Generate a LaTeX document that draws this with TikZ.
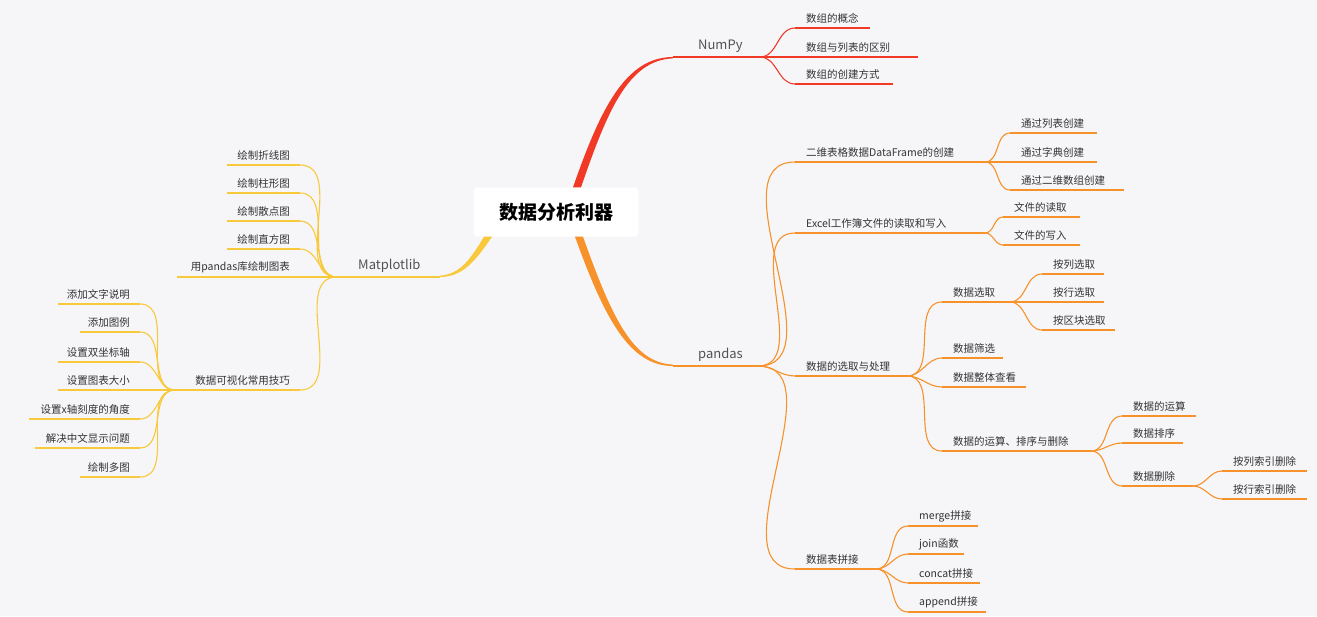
\documentclass[tikz,border=0pt]{standalone}
\usepackage{fontspec}
\setmainfont{Noto Sans CJK SC}
\definecolor{bg}{HTML}{F6F6F9}
\definecolor{cred}{HTML}{F03A26}
\definecolor{cor}{HTML}{F7922A}
\definecolor{cyel}{HTML}{F9C93C}
\definecolor{txt}{HTML}{333333}
\tikzset{
  leaftxt/.style={font=\fontsize{10.5}{12}\selectfont, text=txt, inner sep=1pt},
  maintxt/.style={font=\fontsize{13}{15}\selectfont, text=txt!85, inner sep=1pt},
  ln/.style={line width=1.1pt}
}
\newcommand\leafR[6]{%
  \coordinate (#1s) at (#3,-#5); \coordinate (#1e) at (#4,-#5);
  \draw[ln,#2] (#1s) -- (#1e);
  \node[leaftxt, anchor=south west] (#1) at ([xshift=10pt,yshift=3pt]#1s) {#6};}
\newcommand\leafL[6]{%
  \coordinate (#1s) at (#3,-#5); \coordinate (#1e) at (#4,-#5);
  \draw[ln,#2] (#1s) -- (#1e);
  \node[leaftxt, anchor=south east] (#1) at ([xshift=-9pt,yshift=3pt]#1e) {#6};}
\newcommand\cR[3]{\draw[ln,#1] (#2) to[out=0,in=180] (#3);}
\newcommand\cL[3]{\draw[ln,#1] (#2) to[out=180,in=0] (#3);}
\begin{document}
\begin{tikzpicture}[x=1pt,y=1pt]
\fill[bg] (0,0) rectangle (1317,-616);
\useasboundingbox (0,0) rectangle (1317,-616);
% central
\node[fill=white, rounded corners=4pt, minimum width=165pt, minimum height=49pt, inner sep=0pt,
  font=\fontsize{19}{22}\selectfont\bfseries, text=black] (root) at (556,-212) {数据分析利器};
% NumPy
\coordinate (nums) at (673,-57); \coordinate (nume) at (760,-57);
\fill[cred] ([xshift=17pt]root.north) .. controls (600,-110) and (625,-57) .. (nums) -- ([yshift=-1.4pt]nums) .. controls (628,-60) and (607,-112) .. ([xshift=25pt]root.north) -- cycle;
\draw[ln,cred] (nums) -- (nume);
\node[maintxt, anchor=south west] (numpy) at (697,-54) {NumPy};
\leafR{n1}{cred}{795}{870}{28}{数组的概念}
\leafR{n2}{cred}{795}{918}{57}{数组与列表的区别}
\leafR{n3}{cred}{795}{893}{84}{数组的创建方式}
\foreach \c in {n1s,n2s,n3s} {\cR{cred}{nume}{\c}}
% pandas
\coordinate (pans) at (673,-366); \coordinate (pane) at (758,-366);
\fill[cor] ([xshift=19pt]root.south) .. controls (605,-320) and (630,-366) .. (pans) -- ([yshift=1.4pt]pans) .. controls (633,-363) and (612,-318) .. ([xshift=27pt]root.south) -- cycle;
\draw[ln,cor] (pans) -- (pane);
\node[maintxt, anchor=south west] (pandas) at (697,-363) {pandas};
\leafR{p1}{cor}{795}{985}{162}{二维表格数据DataFrame的创建}
\leafR{p11}{cor}{1010}{1097}{133}{通过列表创建}
\leafR{p12}{cor}{1010}{1097}{162}{通过字典创建}
\leafR{p13}{cor}{1010}{1124}{190}{通过二维数组创建}
\leafR{p2}{cor}{795}{985}{233}{Excel工作簿文件的读取和写入}
\leafR{p21}{cor}{1003}{1080}{217}{文件的读取}
\leafR{p22}{cor}{1003}{1080}{245}{文件的写入}
\leafR{p3}{cor}{795}{907}{376}{数据的选取与处理}
\leafR{p31}{cor}{942}{1010}{302}{数据选取}
\leafR{p311}{cor}{1042}{1104}{274}{按列选取}
\leafR{p312}{cor}{1042}{1104}{302}{按行选取}
\leafR{p313}{cor}{1042}{1115}{330}{按区块选取}
\leafR{p32}{cor}{942}{1003}{358}{数据筛选}
\leafR{p33}{cor}{942}{1026}{387}{数据整体查看}
\leafR{p34}{cor}{942}{1091}{451}{数据的运算、排序与删除}
\leafR{p341}{cor}{1122}{1196}{416}{数据的运算}
\leafR{p342}{cor}{1122}{1183}{443}{数据排序}
\leafR{p343}{cor}{1122}{1193}{486}{数据删除}
\leafR{p3431}{cor}{1222}{1307}{471}{按列索引删除}
\leafR{p3432}{cor}{1222}{1307}{499}{按行索引删除}
\leafR{p4}{cor}{795}{876}{569}{数据表拼接}
\leafR{p41}{cor}{908}{978}{526}{merge拼接}
\leafR{p42}{cor}{908}{964}{554}{join函数}
\leafR{p43}{cor}{908}{980}{583}{concat拼接}
\leafR{p44}{cor}{908}{986}{612}{append拼接}
\foreach \c in {p1s,p2s,p3s,p4s} {\cR{cor}{pane}{\c}}
\foreach \c in {p11s,p12s,p13s} {\cR{cor}{p1e}{\c}}
\foreach \c in {p21s,p22s} {\cR{cor}{p2e}{\c}}
\foreach \c in {p31s,p32s,p33s,p34s} {\cR{cor}{p3e}{\c}}
\foreach \c in {p311s,p312s,p313s} {\cR{cor}{p31e}{\c}}
\foreach \c in {p341s,p342s,p343s} {\cR{cor}{p34e}{\c}}
\foreach \c in {p3431s,p3432s} {\cR{cor}{p343e}{\c}}
\foreach \c in {p41s,p42s,p43s,p44s} {\cR{cor}{p4e}{\c}}
% Matplotlib
\coordinate (mats) at (337,-277); \coordinate (mate) at (440,-277);
\fill[cyel] ([xshift=-64pt]root.south) .. controls (475,-262) and (462,-277) .. (mate) -- ([yshift=1.3pt]mate) .. controls (460,-274) and (470,-260) .. ([xshift=-72pt]root.south) -- cycle;
\draw[ln,cyel] (mats) -- (mate);
\node[maintxt, anchor=south west] (matplotlib) at (357,-274) {Matplotlib};
\leafL{m1}{cyel}{227}{300}{165}{绘制折线图}
\leafL{m2}{cyel}{227}{300}{193}{绘制柱形图}
\leafL{m3}{cyel}{227}{300}{221}{绘制散点图}
\leafL{m4}{cyel}{227}{300}{249}{绘制直方图}
\leafL{m5}{cyel}{177}{300}{277}{用pandas库绘制图表}
\leafL{m6}{cyel}{175}{300}{390}{数据可视化常用技巧}
\leafL{m61}{cyel}{58}{140}{304}{添加文字说明}
\leafL{m62}{cyel}{80}{140}{332}{添加图例}
\leafL{m63}{cyel}{58}{140}{362}{设置双坐标轴}
\leafL{m64}{cyel}{58}{140}{390}{设置图表大小}
\leafL{m65}{cyel}{29}{140}{419}{设置x轴刻度的角度}
\leafL{m66}{cyel}{35}{140}{448}{解决中文显示问题}
\leafL{m67}{cyel}{80}{140}{477}{绘制多图}
\foreach \c in {m1e,m2e,m3e,m4e,m5e,m6e} {\cL{cyel}{mats}{\c}}
\foreach \c in {m61e,m62e,m63e,m64e,m65e,m66e,m67e} {\cL{cyel}{m6s}{\c}}
\end{tikzpicture}
\end{document}
